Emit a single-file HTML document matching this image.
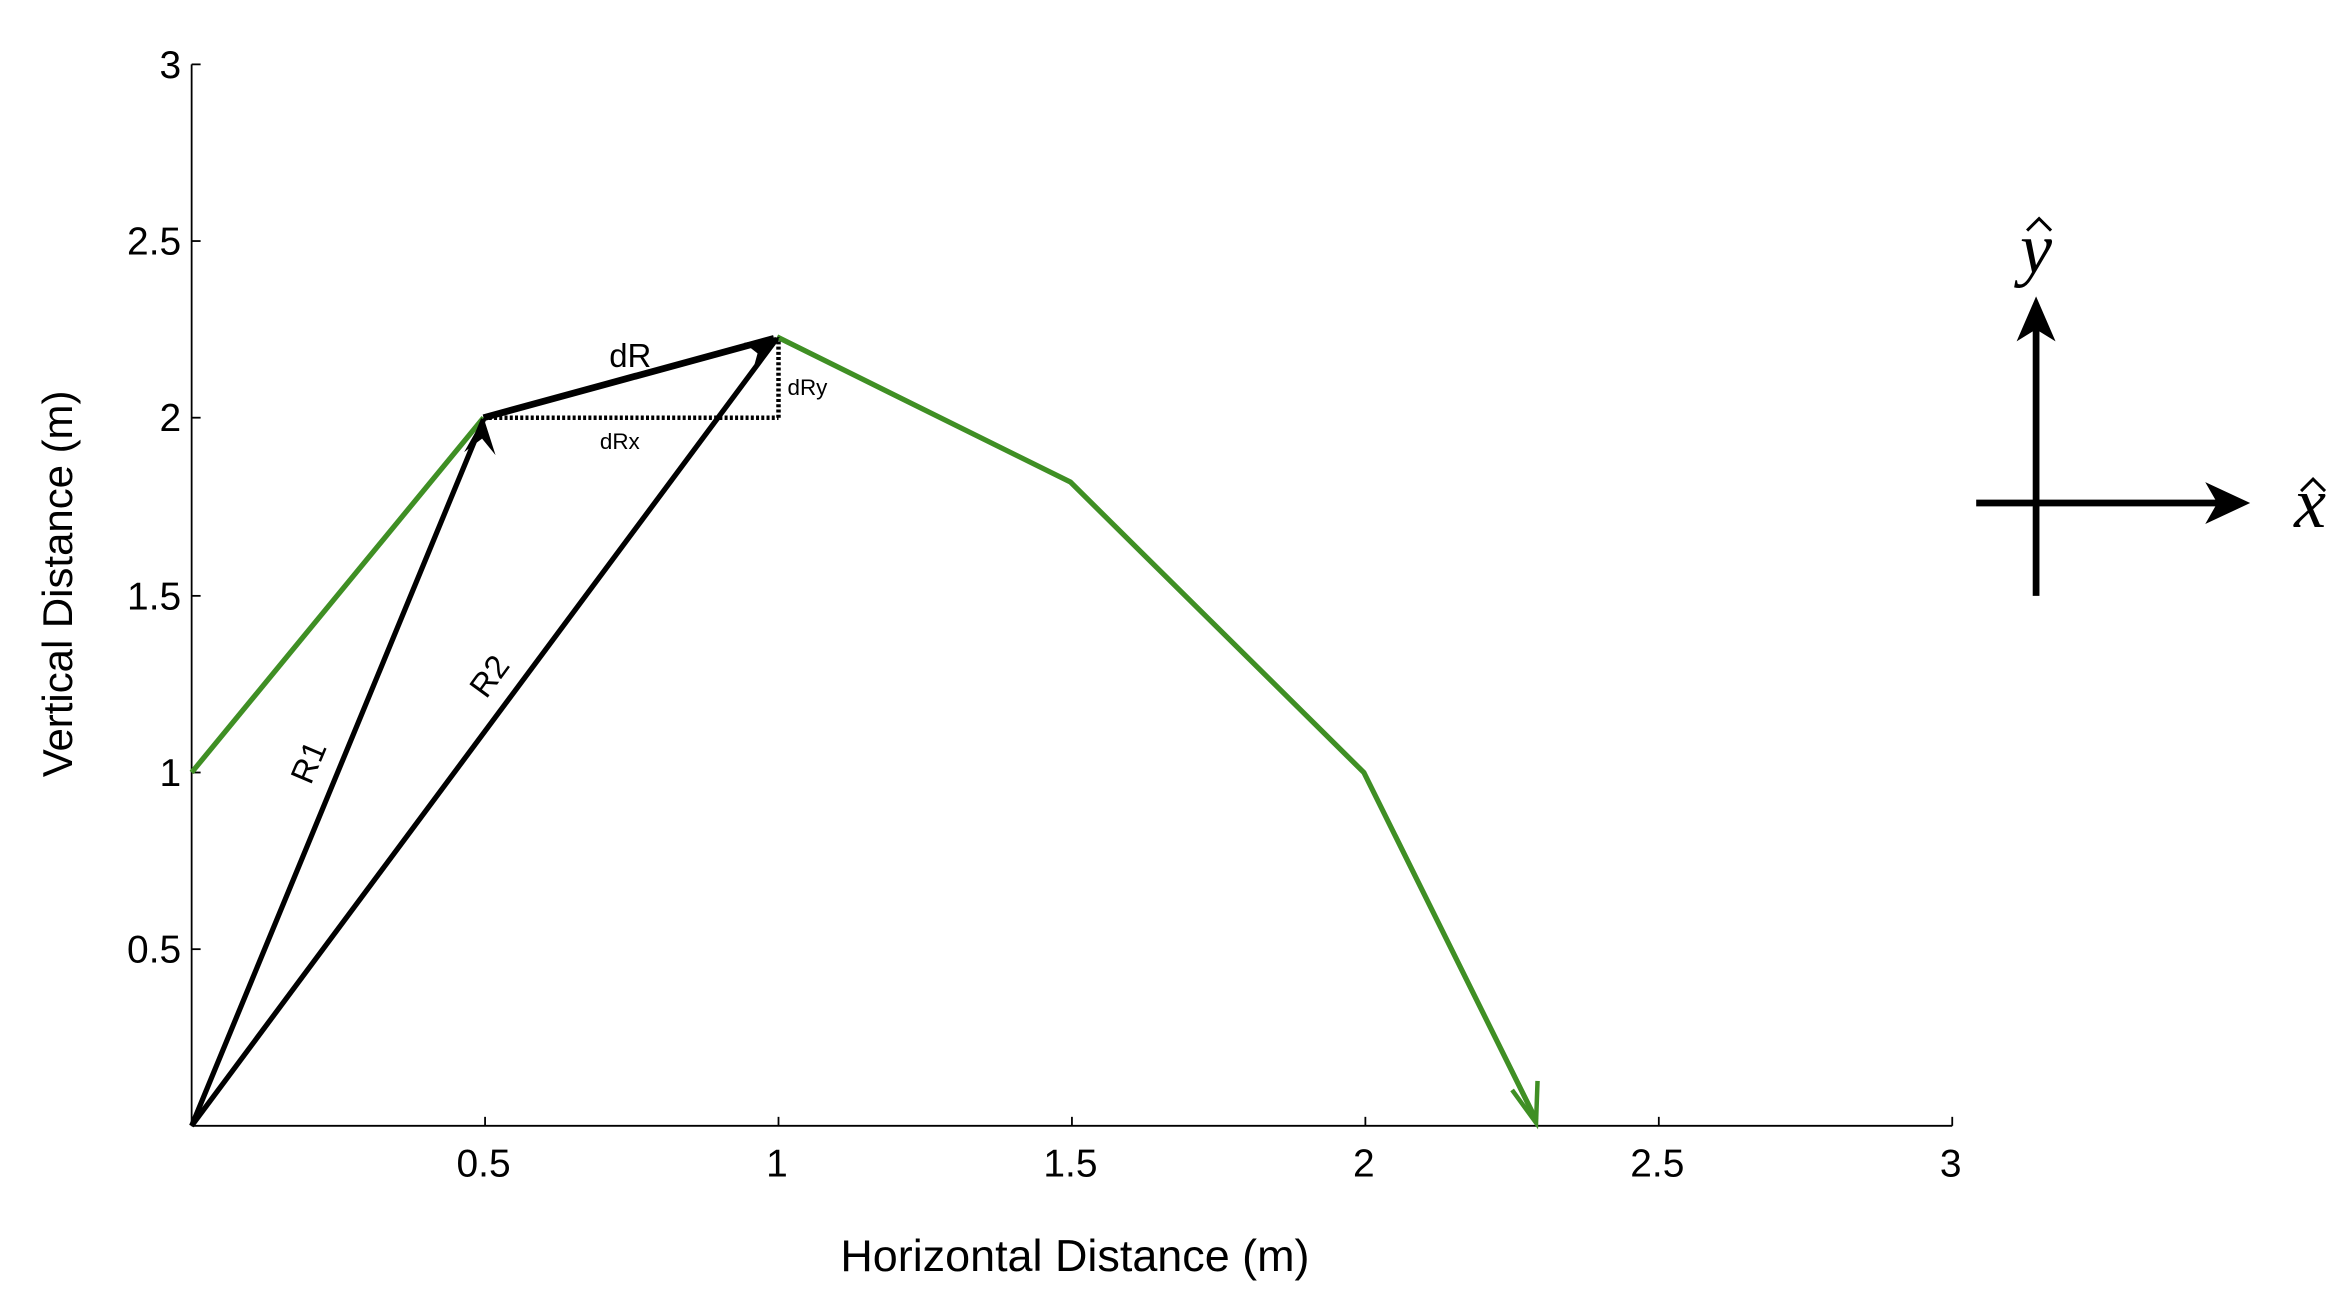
<!DOCTYPE html>
<html><head><meta charset="utf-8"><style>
html,body{margin:0;padding:0;background:#fff;}
svg{display:block;}
text{font-family:"Liberation Sans",sans-serif;fill:#000;}
</style></head><body>
<svg width="2340" height="1298" viewBox="0 0 1563 867" xmlns="http://www.w3.org/2000/svg">
<g stroke="#000" stroke-width="1.2" fill="none">
<line x1="128" y1="43" x2="128" y2="752"/>
<line x1="128" y1="752" x2="1304" y2="752"/>
<line x1="128" y1="43" x2="134" y2="43"/>
<line x1="128" y1="161" x2="134" y2="161"/>
<line x1="128" y1="279" x2="134" y2="279"/>
<line x1="128" y1="398" x2="134" y2="398"/>
<line x1="128" y1="516" x2="134" y2="516"/>
<line x1="128" y1="634" x2="134" y2="634"/>
<line x1="324" y1="752" x2="324" y2="746"/>
<line x1="520" y1="752" x2="520" y2="746"/>
<line x1="716" y1="752" x2="716" y2="746"/>
<line x1="912" y1="752" x2="912" y2="746"/>
<line x1="1108" y1="752" x2="1108" y2="746"/>
<line x1="1304" y1="752" x2="1304" y2="746"/>
</g>
<g font-size="26" text-anchor="end">
<text x="121" y="52">3</text>
<text x="121" y="170">2.5</text>
<text x="121" y="288">2</text>
<text x="121" y="407">1.5</text>
<text x="121" y="525">1</text>
<text x="121" y="643">0.5</text>
</g>
<g font-size="26" text-anchor="middle">
<text x="323" y="786">0.5</text>
<text x="519" y="786">1</text>
<text x="715" y="786">1.5</text>
<text x="911" y="786">2</text>
<text x="1107" y="786">2.5</text>
<text x="1303" y="786">3</text>
</g>
<text x="718" y="849" font-size="30" text-anchor="middle">Horizontal Distance (m)</text>
<text transform="translate(48,390) rotate(-90)" font-size="28" text-anchor="middle">Vertical Distance (m)</text>
<g stroke="#3f8f24" stroke-width="3.5" fill="none">
<polyline points="128,516 323,279"/>
<polyline points="519,225 715,322 911,516 1026,748"/>
<polyline points="1010,728 1026,750 1027,722" stroke-width="3"/>
</g>
<g stroke="#000" stroke-width="3.5" fill="none">
<line x1="128" y1="752" x2="323" y2="280"/>
<line x1="128" y1="752" x2="519" y2="226"/>
<line x1="323" y1="279" x2="517" y2="226" stroke-width="4.5"/>
</g>
<g fill="#000">
<polygon points="323,279 310,302 322,293 331,304"/>
<polygon points="521,225 497,229 506,236 503,247"/>
</g>
<g stroke="#000" stroke-width="3" stroke-dasharray="2,1.5" fill="none">
<line x1="323" y1="279" x2="520" y2="279"/>
<line x1="520" y1="279" x2="520" y2="227"/>
</g>
<text x="421" y="245" font-size="22" text-anchor="middle">dR</text>
<text x="414" y="300" font-size="15" text-anchor="middle">dRx</text>
<text x="526" y="264" font-size="15">dRy</text>
<text transform="translate(213,512) rotate(-67)" font-size="22" text-anchor="middle">R1</text>
<text transform="translate(333,456) rotate(-54)" font-size="22" text-anchor="middle">R2</text>
<g stroke="#000" stroke-width="4.5" fill="none">
<line x1="1360" y1="398" x2="1360" y2="215"/>
<line x1="1320" y1="336" x2="1487" y2="336"/>
</g>
<polygon points="1360,198 1347,228 1360,220 1373,228" fill="#000"/>
<polygon points="1503,336 1473,322 1481,336 1473,350" fill="#000"/>
<text x="1360" y="182" font-size="48" font-style="italic" text-anchor="middle" style="font-family:'Liberation Serif',serif">y</text>
<polyline points="1354,154 1362,146 1370,154" stroke="#000" stroke-width="2" fill="none"/>
<text x="1543" y="352" font-size="48" font-style="italic" text-anchor="middle" style="font-family:'Liberation Serif',serif">x</text>
<polyline points="1537,328 1545,320 1553,328" stroke="#000" stroke-width="2" fill="none"/>
</svg>
</body></html>
